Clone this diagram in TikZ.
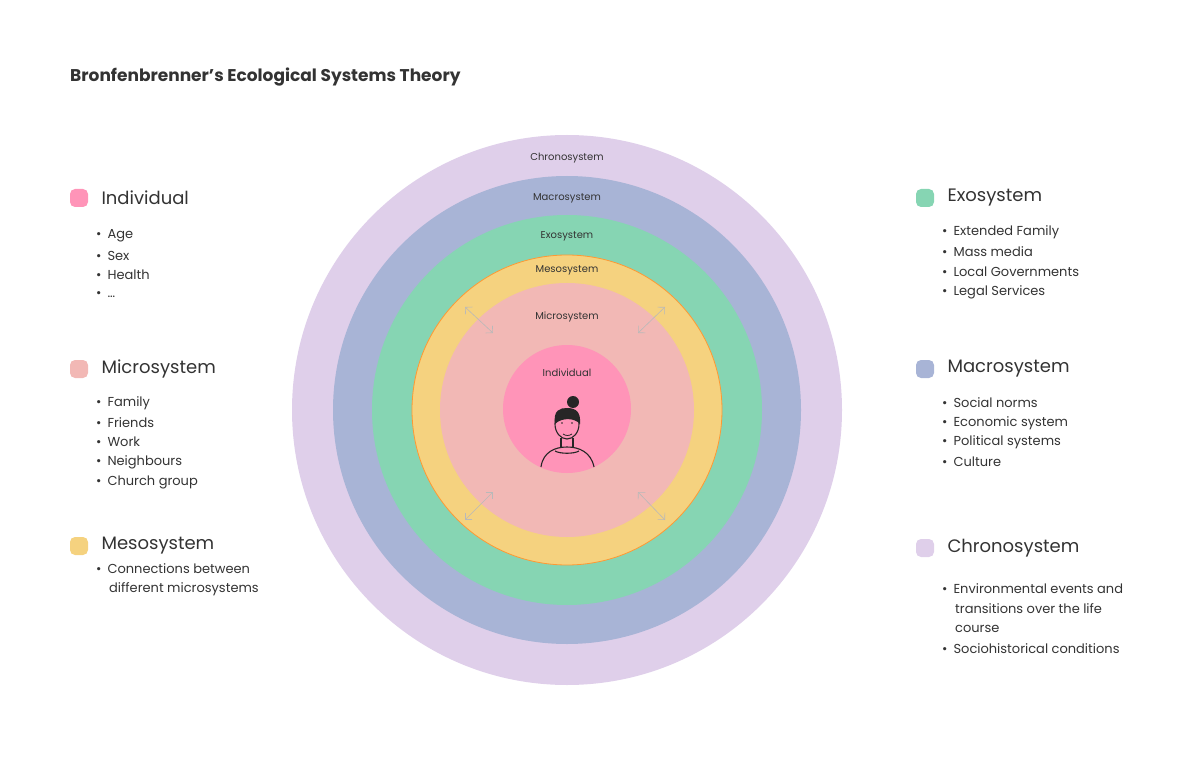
\documentclass[tikz,border=0pt]{standalone}
\usepackage{fontspec}
\setmainfont{Poppins}
\usetikzlibrary{arrows.meta}
\definecolor{indiv}{HTML}{FF94B8}
\definecolor{micro}{HTML}{F2B8B5}
\definecolor{meso}{HTML}{F5D27F}
\definecolor{exo}{HTML}{86D5B3}
\definecolor{macro}{HTML}{A8B4D6}
\definecolor{chrono}{HTML}{DFCFEA}
\definecolor{ink}{HTML}{333333}
\tikzset{
  ringlabel/.style={font=\fontsize{10}{12}\selectfont, text=ink},
  keybox/.style={rounded corners=5pt, minimum size=18pt, inner sep=0pt},
  keyhead/.style={anchor=west, font=\fontsize{18}{21}\selectfont, text=ink},
  keyitem/.style={anchor=west, font=\fontsize{13}{15}\selectfont, text=ink, inner sep=0pt},
  linkarrow/.style={{Straight Barb[length=5pt]}-{Straight Barb[length=5pt]}, gray!55, line width=0.6pt}
}
\begin{document}
\begin{tikzpicture}[x=1pt,y=-1pt]
  \useasboundingbox (0,0) rectangle (1200,762);
  \node[anchor=west, font=\fontsize{17}{20}\selectfont\bfseries, text=ink, inner sep=0pt] (title) at (70,77) {Bronfenbrenner’s Ecological Systems Theory};
  % rings
  \fill[chrono] (567,410) circle (275);
  \fill[macro] (567,410) circle (234);
  \fill[exo] (567,410) circle (195);
  \filldraw[fill=meso, draw=orange!80, line width=0.8pt] (567,410) circle (155);
  \fill[micro] (567,410) circle (127);
  \fill[indiv] (567,409) circle (64);
  \node[ringlabel] (lchrono) at (567,158) {Chronosystem};
  \node[ringlabel] (lmacro) at (567,198) {Macrosystem};
  \node[ringlabel] (lexo) at (567,236) {Exosystem};
  \node[ringlabel] (lmeso) at (567,270) {Mesosystem};
  \node[ringlabel] (lmicro) at (567,317) {Microsystem};
  \node[ringlabel] (lindiv) at (567,373) {Individual};
  % arrows
  \coordinate (a1) at (465,307); \coordinate (b1) at (493,333);
  \coordinate (a2) at (665,307); \coordinate (b2) at (638,333);
  \coordinate (a3) at (465,520); \coordinate (b3) at (493,492);
  \coordinate (a4) at (665,520); \coordinate (b4) at (638,492);
  \foreach \i in {1,2,3,4} \draw[linkarrow] (a\i) -- (b\i);
  % person
  \begin{scope}[line width=1.1pt, draw=black!85]
    \draw[fill=indiv] (541,467) .. controls (543,452) and (555,447) .. (567,447) .. controls (579,447) and (591,452) .. (594,467);
    \draw (555,451) .. controls (560,454) and (574,454) .. (579,451);
    \draw (561,438) -- (561,448) (573,438) -- (573,448);
    \draw[fill=indiv] (567,424) ellipse (12 and 15);
    \fill[black!85] (573,402) circle (6);
    \fill[black!85] (555,424) .. controls (553,410) and (560,408) .. (567,408) .. controls (576,408) and (581,412) .. (580,424) .. controls (575,418) and (562,417) .. (555,424) -- cycle;
    \fill[black!85] (562,423) circle (0.9) (572,423) circle (0.9);
    \draw[line width=0.8pt] (563,434) .. controls (566,436) and (569,436) .. (572,434);
  \end{scope}
  % left key
  \node[keybox, fill=indiv] (kindiv) at (79,198) {};
  \node[keyhead] (hindiv) at (98,198) {Individual};
  \node[keybox, fill=micro] (kmicro) at (79,369) {};
  \node[keyhead] (hmicro) at (98,369) {Microsystem};
  \node[keybox, fill=meso] (kmeso) at (79,546) {};
  \node[keyhead] (hmeso) at (98,546) {Mesosystem};
  \foreach \t/\y in {Age/236, Sex/256, Health/275, {\ldots}/295, Family/403, Friends/423, Work/442, Neighbours/462, Church group/482, Connections between/569}
    \node[keyitem] at (96,\y) {•\hspace{6pt}\t};
  \node[keyitem] (mesomore) at (109,589) {different microsystems};
  % right key
  \node[keybox, fill=exo] (kexo) at (925,198) {};
  \node[keyhead] (hexo) at (944,198) {Exosystem};
  \node[keybox, fill=macro] (kmacro) at (925,369) {};
  \node[keyhead] (hmacro) at (944,369) {Macrosystem};
  \node[keybox, fill=chrono] (kchrono) at (925,548) {};
  \node[keyhead] (hchrono) at (944,548) {Chronosystem};
  \foreach \t/\y in {Extended Family/232, Mass media/252, Local Governments/272, Legal Services/292, Social norms/403, Economic system/423, Political systems/442, Culture/462, Environmental events and/589, Sociohistorical conditions/649}
    \node[keyitem] at (942,\y) {•\hspace{6pt}\t};
  \node[keyitem] (chronomore1) at (955,609) {transitions over the life};
  \node[keyitem] (chronomore2) at (955,629) {course};
\end{tikzpicture}
\end{document}
